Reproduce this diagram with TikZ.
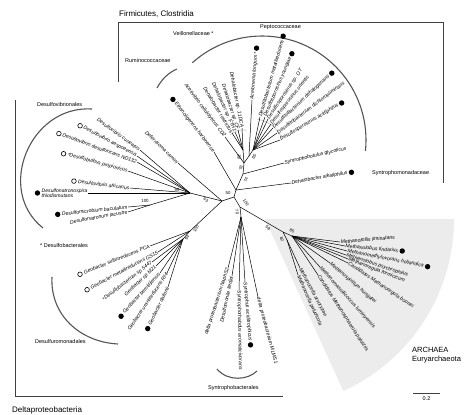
\documentclass[tikz,border=0pt]{standalone}
\usepackage{fontspec}
\setmainfont{Liberation Sans}
\usetikzlibrary{calc}
\definecolor{arcgrey}{RGB}{85,85,85}
\definecolor{archgrey}{RGB}{236,236,236}
\definecolor{tipgrey}{RGB}{205,205,205}

\begin{document}
\begin{tikzpicture}[x=1pt,y=-1pt,
    br/.style={line width=0.5pt},
    frame/.style={draw=black!75,line width=0.9pt},
    clade/.style={draw=arcgrey,line width=1.1pt},
    tipring/.style={draw=tipgrey,line width=0.8pt},
    leafR/.style={anchor=west,inner sep=0.4pt,font=\fontsize{5.1}{5.6}\selectfont\itshape},
    leafL/.style={anchor=east,inner sep=0.4pt,align=left,font=\fontsize{5.1}{5.6}\selectfont\itshape},
    boot/.style={inner sep=0pt,font=\fontsize{4.3}{4.5}\selectfont},
    grp/.style={anchor=west,inner sep=0pt,font=\fontsize{5.5}{6}\selectfont},
    big/.style={anchor=west,inner sep=0pt,font=\fontsize{8}{9}\selectfont},
    mko/.style={circle,draw,line width=0.6pt,minimum size=4.6pt,inner sep=0pt},
    mkf/.style={circle,fill,minimum size=5.4pt,inner sep=0pt},
    mkn/.style={inner sep=0pt}
]
  \fill[white] (0,0) rectangle (474,415);
  \useasboundingbox (0,0) rectangle (474,415);

  % Archaea sector
  \fill[archgrey] (265,219) -- plot[domain=0:65.5,samples=40,variable=\q]
    ({265+189*cos(\q)},{219+189*sin(\q)}) -- cycle;

  % Frames
  \draw[frame] (118,82) -- (118,22) -- (443,22) -- (443,183);
  \draw[frame] (15,100) -- (15,396) -- (283,396);
  \node[big] (firm) at (119,14) {Firmicutes, Clostridia};
  \node[big] (delta) at (12,410) {Deltaproteobacteria};

  % Clade arcs
  \draw[clade] plot[domain=-6:132,samples=50,variable=\q] ({262+104*cos(\q)},{140-104*sin(\q)});
  \draw[clade] (157,88) .. controls (162,79) and (168,73) .. (177,69);
  \draw[clade] (92,109) .. controls (30,105) and (-5,190) .. (43,228);
  \draw[clade] (52,277) .. controls (50,315) and (80,342) .. (118,344);
  \draw[clade] (217,369) .. controls (228,382) and (248,380) .. (257,371);
  \draw[tipring] plot[domain=80:130,samples=20,variable=\q] ({243+20*cos(\q)},{150-20*sin(\q)});
  \draw[tipring] plot[domain=22:82,samples=20,variable=\q] ({253+31*cos(\q)},{150-31*sin(\q)});

  % Inner nodes
  \coordinate (R) at (234,197);
  \coordinate (DL) at (222,201);
  \coordinate (DV) at (190,193);
  \coordinate (P100) at (150,205);
  \coordinate (GB) at (190,231);
  \coordinate (G2) at (183,239);
  \coordinate (F0) at (236,190);
  \coordinate (F1) at (243,174);
  \coordinate (F2) at (244,163);
  \coordinate (DH) at (243,150);
  \coordinate (F3) at (249,156);
  \coordinate (PP) at (253,150);
  \coordinate (S0) at (240,207);
  \coordinate (S1) at (241,217);
  \coordinate (A0) at (283,232);
  \coordinate (A1) at (292,236);
  \coordinate (A2) at (287,240);

  \draw[br] (R) -- (DL) (DL) -- (DV) (DV) -- (P100) (DL) -- (GB) (GB) -- (G2)
    (R) -- (F0) (F0) -- (F1) (F1) -- (F2) (F2) -- (DH) (F2) -- (F3) (F3) -- (PP)
    (R) -- (S0) (S0) -- (S1) (S0) -- (A0) (A0) -- (A1) (A0) -- (A2);

  % Leaves read outward
  \foreach \p/\x/\y/\a/\m/\t [count=\i] in {
      F3/252/100/85/mkf/Acetonema longum *,
      PP/260/117/74/mkf/Desulfitobacterium metallireducens,
      PP/265/117/67/mkf/Desulfosporosinus youngiae,
      PP/268/119/56/mkn/Desulfosporosinus sp. OT,
      PP/271/124/52/mkn/Desulfosporosinus orientis,
      PP/273/128/43/mkf/Desulfitobacterium dehalogenans,
      PP/277/133/37/mkn/Desulfitobacterium dichloroeliminans,
      PP/280/140/31/mkf/Desulfosporosinus acidiphilus,
      F1/284/163/13/mkn/Syntrophobotulus glycolicus,
      F0/291/183/10/mkf/Dehalobacter alkaliphilus,
      S1/239/290/-89/mkn/Syntrophorhabdus aromaticivorans,
      S1/245/282/-85/mkf/Syntrophus aciditrophicus,
      S1/258/297/-75/mkn/delta proteobacterium MLMS1,
      A1/340/242/5/mkn/Methanofollis liminatans,
      A1/345/246/-5/mkf/Methanolobus tindarius,
      A1/347/251/-11/mkf/Methanomethylovorans hollandica,
      A1/346/255/-18/mkn/Methanolobus psychrophilus,
      A1/348/259/-21/mkn/Methanoregula formicicum,
      A1/348/263/-34/mkn/Candidatus Methanoregula boonei,
      A1/330/263/-41/mkn/Methanospirillum hungatei,
      A1/320/267/-48/mkn/Methanomassiliicoccus luminyensis,
      A1/318/275/-57/mkn/Candidatus Methanosphaerula palustris,
      A2/300/268/-62/mkn/Methanocella arvoryzae,
      A2/298/275/-66/mkn/Methanocella paludicola}{
    \draw[br] (\p) -- (\x,\y) coordinate (rt\i) node[leafR,rotate=\a] (r\i) {\t};
    \node[\m] (rm\i) at ($(r\i.east)!-3.4pt!(r\i.west)$) {};
  }

  % Leaves read inward
  \foreach \p/\x/\y/\a/\m/\t [count=\i] in {
      DL/178/163/-44/mkn/Deferrisoma camini,
      F0/214/152/-52/mkf/Ethanoligenens harbinense,
      F2/225/137/-53/mkn/Acetivibrio cellulolyticus CD2,
      DH/232/133/-59/mkn/Dehalobacter restrictus,
      DH/235/132/-66/mkn/Dehalobacter sp. FTH1,
      DH/238/130/-72/mkn/Dehalobacter sp. CF,
      DH/242/128/-79/mkn/Dehalobacter sp. 11DCA,
      DV/140/150/-36/mkn/Desulfovibrio cuneatus,
      DV/137/156/-28/mko/Desulfovibrio aespoeensis,
      DV/137/162/-20/mko/Desulfovibrio desulfuricans ND132,
      DV/128/171/-15/mko/*Desulfobulbus propionicus,
      DV/130/188/-7/mko/Desulfovibrio africanus,
      DV/88/193/0/mkf/Desulfonatronospira\\thiodismutans,
      P100/128/207/6/mkf/Desulfomicrobium baculatum,
      P100/128/212/10/mkn/Desulfonatronum lacustre,
      GB/150/246/22/mko/Geobacter sulfurreducens PCA,
      GB/158/252/28/mko/Geobacter metallireducens GS15,
      G2/152/262/38/mkn/*Desulfobacterium sp 5447,
      G2/156/266/44/mkn/Geobacter sp M21,
      G2/160/273/48/mkf/Geobacter bemidjiensis,
      G2/167/273/56/mkn/Geobacter uraniireducens Rf4,
      G2/168/287/64/mkf/Geobacter daltonii,
      S1/228/268/72/mkn/delta proteobacterium NaphS2,
      S1/232/276/78/mkn/Desulfomonile tiedjei}{
    \draw[br] (\p) -- (\x,\y) coordinate (lt\i) node[leafL,rotate=\a] (l\i) {\t};
    \node[\m] (lm\i) at ($(l\i.west)!-3.6pt!(l\i.east)$) {};
  }

  % Bootstrap values
  \foreach \x/\y/\a/\t [count=\i] in {228/193/0/50, 206/200/-35/63, 177/190/0/99,
      145/201/8/100, 187/238/60/94, 196/229/60/100, 246/203/-55/100, 237/212/-80/70,
      268/228/-35/58, 292/231/-15/85, 282/239/-75/82, 246/180/70/74, 241/168/80/78,
      239/157/80/82, 254/157/60/65}
    \node[boot,rotate=\a] (bs\i) at (\x,\y) {\t};

  % Group labels
  \node[grp] (veil) at (173,34) {Veillonellaceae *};
  \node[grp] (pept) at (260,27) {Peptococcaceae};
  \node[grp] (rumi) at (125,61) {Ruminococcaceae};
  \node[grp] (synm) at (372,173) {Syntrophomonadaceae};
  \node[grp] (dsv) at (37,105) {Desulfovibrionales};
  \node[grp] (dsb) at (40,246) {* Desulfobacterales};
  \node[grp] (dsm) at (35,342) {Desulfuromonadales};
  \node[grp] (synb) at (208,388) {Syntrophobacterales};
  \node[anchor=west,inner sep=0pt,align=left,font=\fontsize{7.5}{9.5}\selectfont] (arch)
    at (412,355) {ARCHAEA\\Euryarchaeota};

  % Scale bar
  \coordinate (sb1) at (413,393);
  \coordinate (sb2) at (440,393);
  \draw[line width=0.7pt,black!75] (sb1) -- (sb2);
  \node[grp,anchor=north] (sbl) at ($(sb1)!0.5!(sb2)+(0,3)$) {0.2};
\end{tikzpicture}
\end{document}
